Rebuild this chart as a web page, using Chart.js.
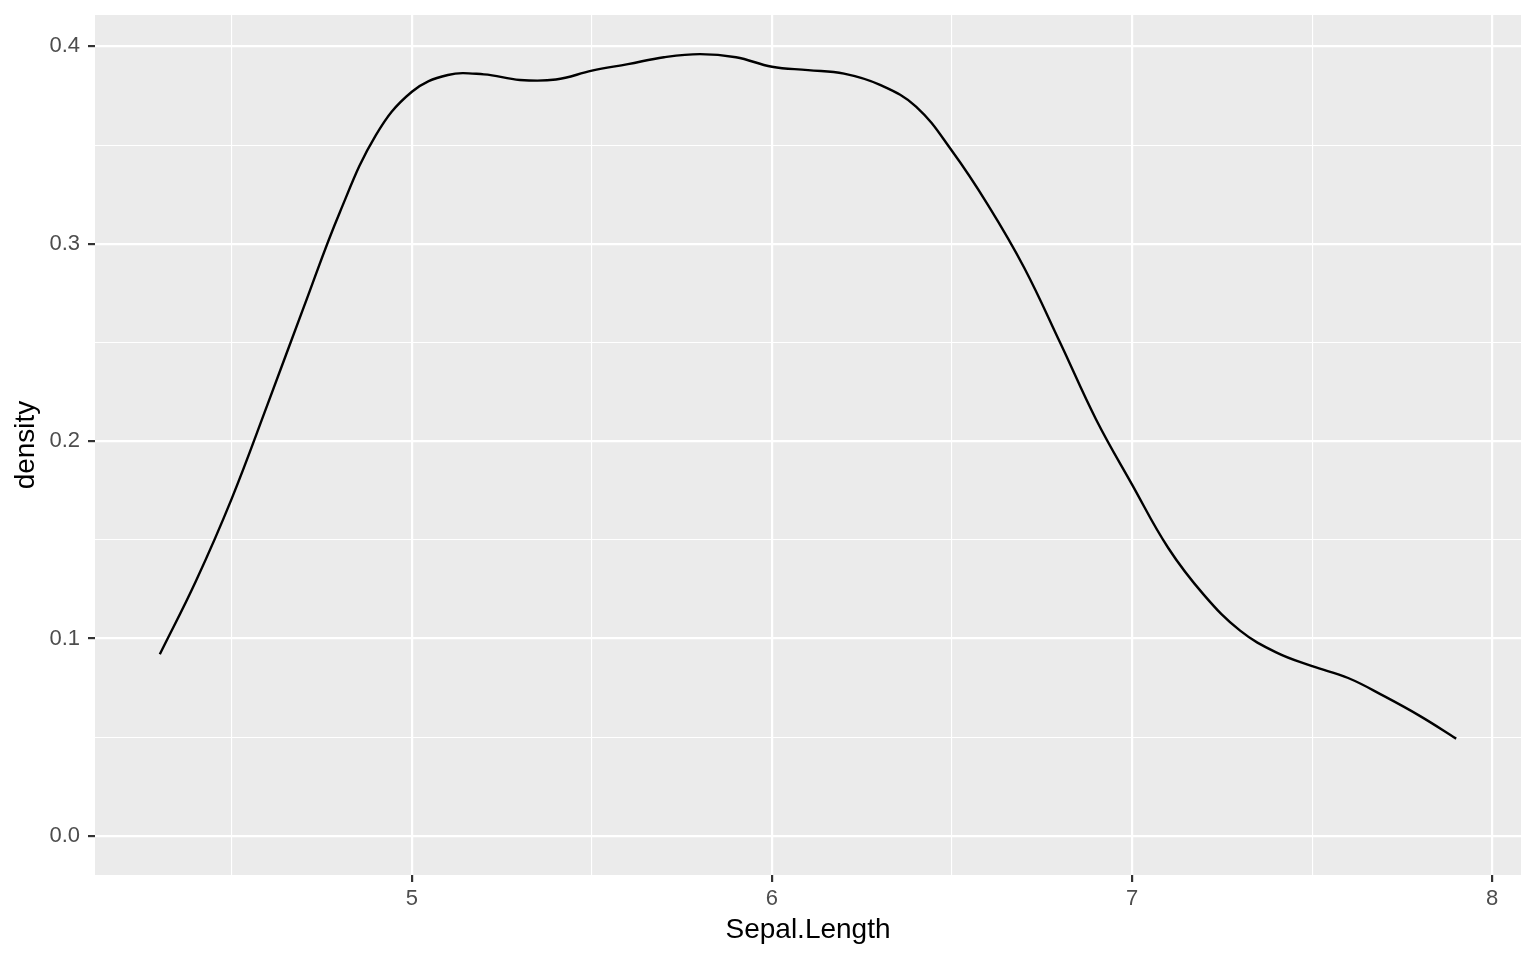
<!DOCTYPE html>
<html>
<head>
<meta charset="utf-8">
<script src="https://cdn.jsdelivr.net/npm/chart.js@4"></script>
<style>
	html, body { margin: 0; padding: 0; background: #ffffff; }
	#wrap { width: 1536px; height: 960px; }
</style>
</head>
<body>
<div id="wrap"><canvas id="chart" width="1536" height="960"></canvas></div>
<script>
// Sepal.Length values and the density
const sepalLength = [4.3, 4.4, 4.5, 4.6, 4.7, 4.8, 4.9, 5.0, 5.1, 5.2, 5.3, 5.4, 5.5, 5.6, 5.7, 5.8, 5.9, 6.0, 6.1,
	6.2, 6.3, 6.4, 6.5, 6.6, 6.7, 6.8, 6.9, 7.0, 7.1, 7.2, 7.3, 7.4, 7.5, 7.6, 7.7, 7.8, 7.9];
const density = [0.092, 0.129, 0.171, 0.219, 0.268, 0.316, 0.355, 0.377, 0.3855, 0.3858, 0.383, 0.3832, 0.3877,
	0.391, 0.3945, 0.3961, 0.3945, 0.3897, 0.388, 0.3862, 0.3805, 0.3695, 0.347, 0.3196, 0.288, 0.25, 0.211, 0.178,
	0.146, 0.122, 0.104, 0.093, 0.086, 0.08, 0.0708, 0.0607, 0.0493];

// axis ticks (major ones get a label, minor ones only a thin grid line)
const xTicks = [4.5, 5, 5.5, 6, 6.5, 7, 7.5, 8];
const xLabels = [5, 6, 7, 8];
const yTicks = [0, 0.05, 0.1, 0.15, 0.2, 0.25, 0.3, 0.35, 0.4];
const yLabels = [0, 0.1, 0.2, 0.3, 0.4];

const FONT = "'Liberation Sans', Arial, Helvetica, sans-serif";
const isMajor = (list, v) => list.some((m) => Math.abs(m - v) < 1e-9);

const panelBg = {
	id: "panelBg",
	beforeDraw(chart) {
		const { ctx, chartArea: a } = chart;
		ctx.save();
		ctx.fillStyle = "#EBEBEB";
		ctx.fillRect(a.left, a.top, a.right - a.left, a.bottom - a.top);
		ctx.restore();
	},
};

const ctx = document.getElementById("chart").getContext("2d");
new Chart(ctx, {
	type: "line",
	data: {
		datasets: [
			{
				data: sepalLength.map((x, i) => ({ x: x, y: density[i] })),
				borderColor: "#000000",
				borderWidth: 2.4,
				pointRadius: 0,
				fill: false,
				tension: 0.4,
			},
		],
	},
	options: {
		responsive: false,
		animation: false,
		devicePixelRatio: 1,
		layout: { padding: { top: 15, right: 15, left: 0, bottom: 0 } },
		plugins: { legend: { display: false }, tooltip: { enabled: false } },
		scales: {
			x: {
				type: "linear",
				min: 4.12,
				max: 8.08,
				afterBuildTicks: (scale) => {
					scale.ticks = xTicks.map((v) => ({ value: v }));
				},
				afterFit: (scale) => {
					scale.height = 85;
					scale.paddingLeft = 0;
					scale.paddingRight = 0;
				},
				border: { display: false },
				grid: {
					color: "#ffffff",
					lineWidth: (c) => (isMajor(xLabels, c.tick.value) ? 2.2 : 1.1),
					tickColor: (c) => (isMajor(xLabels, c.tick.value) ? "#333333" : "rgba(0,0,0,0)"),
					tickWidth: 2.2,
					tickLength: 7,
				},
				ticks: {
					autoSkip: false,
					maxRotation: 0,
					padding: 4,
					color: "#4D4D4D",
					font: { family: FONT, size: 22 },
					callback: (v) => (isMajor(xLabels, v) ? String(v) : ""),
				},
				title: {
					display: true,
					text: "Sepal.Length",
					color: "#000000",
					font: { family: FONT, size: 28 },
					padding: { top: 0, bottom: 13 },
				},
			},
			y: {
				type: "linear",
				min: -0.0198,
				max: 0.4159,
				afterBuildTicks: (scale) => {
					scale.ticks = yTicks.map((v) => ({ value: v }));
				},
				afterFit: (scale) => {
					scale.width = 95;
					scale.paddingTop = 0;
					scale.paddingBottom = 0;
				},
				border: { display: false },
				grid: {
					color: "#ffffff",
					lineWidth: (c) => (isMajor(yLabels, c.tick.value) ? 2.2 : 1.1),
					tickColor: (c) => (isMajor(yLabels, c.tick.value) ? "#333333" : "rgba(0,0,0,0)"),
					tickWidth: 2.2,
					tickLength: 7,
				},
				ticks: {
					autoSkip: false,
					padding: 8,
					color: "#4D4D4D",
					font: { family: FONT, size: 22 },
					callback: (v) => (isMajor(yLabels, v) ? v.toFixed(1) : ""),
				},
				title: {
					display: true,
					text: "density",
					color: "#000000",
					font: { family: FONT, size: 28 },
					padding: { top: 9, bottom: 0 },
				},
			},
		},
	},
	plugins: [panelBg],
});
</script>
</body>
</html>
